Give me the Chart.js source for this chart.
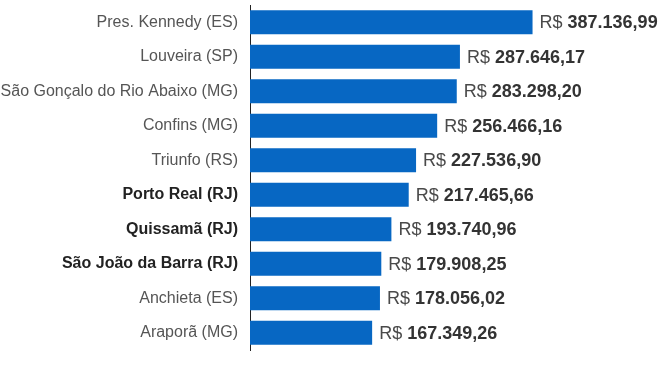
<!DOCTYPE html>
<html>
<head>
<meta charset="utf-8">
<script src="https://cdn.jsdelivr.net/npm/chart.js@4/dist/chart.umd.min.js"></script>
<style>
html,body{margin:0;padding:0;background:#fff;}
#wrap{width:666px;height:375px;position:relative;}
</style>
</head>
<body>
<div id="wrap"><canvas id="c" width="666" height="375"></canvas></div>
<script>
const categories = [
  "Pres. Kennedy (ES)",
  "Louveira (SP)",
  "São Gonçalo do Rio Abaixo (MG)",
  "Confins (MG)",
  "Triunfo (RS)",
  "Porto Real (RJ)",
  "Quissamã (RJ)",
  "São João da Barra (RJ)",
  "Anchieta (ES)",
  "Araporã (MG)"
];
const values = [387136.99, 287646.17, 283298.20, 256466.16, 227536.90, 217465.66, 193740.96, 179908.25, 178056.02, 167349.26];
const highlighted = ["Porto Real (RJ)", "Quissamã (RJ)", "São João da Barra (RJ)"];
const currencyPrefix = "R$ ";

function fmtBRL(v){
  const parts = v.toFixed(2).split(".");
  const intPart = parts[0].replace(/\B(?=(\d{3})+(?!\d))/g, ".");
  return intPart + "," + parts[1];
}

const FONT = "Arial, 'Liberation Sans', Helvetica, sans-serif";

const valueLabels = {
  id: "valueLabels",
  afterDatasetsDraw(chart){
    const ctx = chart.ctx;
    const meta = chart.getDatasetMeta(0);
    ctx.save();
    ctx.textBaseline = "middle";
    ctx.textAlign = "left";
    meta.data.forEach((bar, i) => {
      const x = bar.x + 7;
      const y = bar.y + 1;
      ctx.font = "normal 18px " + FONT;
      ctx.fillStyle = "#4a4a4a";
      ctx.fillText(currencyPrefix, x, y);
      const w = ctx.measureText(currencyPrefix).width;
      ctx.font = "bold 18px " + FONT;
      ctx.fillStyle = "#333333";
      ctx.fillText(fmtBRL(values[i]), x + w, y);
    });
    ctx.restore();
  }
};

new Chart(document.getElementById("c"), {
  type: "bar",
  data: {
    labels: categories,
    datasets: [{
      data: values,
      backgroundColor: "#0767c3",
      borderWidth: 0,
      categoryPercentage: 1.0,
      barPercentage: 0.7
    }]
  },
  options: {
    indexAxis: "y",
    responsive: false,
    animation: false,
    layout: { padding: { top: 5, bottom: 25, left: 0, right: 0 } },
    plugins: { legend: { display: false }, tooltip: { enabled: false } },
    scales: {
      x: {
        display: false,
        min: 0,
        max: 570000
      },
      y: {
        afterFit(scale){
          scale.width = 250;
          scale.paddingTop = 0;
          scale.paddingBottom = 0;
        },
        grid: { display: false, drawTicks: false },
        border: { display: true, color: "#222", width: 1 },
        ticks: {
          padding: 12,
          color: (c) => highlighted.includes(categories[c.index]) ? "#222222" : "#555555",
          font: (c) => ({
            family: FONT,
            size: 16,
            weight: highlighted.includes(categories[c.index]) ? "bold" : "normal"
          })
        }
      }
    }
  },
  plugins: [valueLabels]
});
</script>
</body>
</html>
